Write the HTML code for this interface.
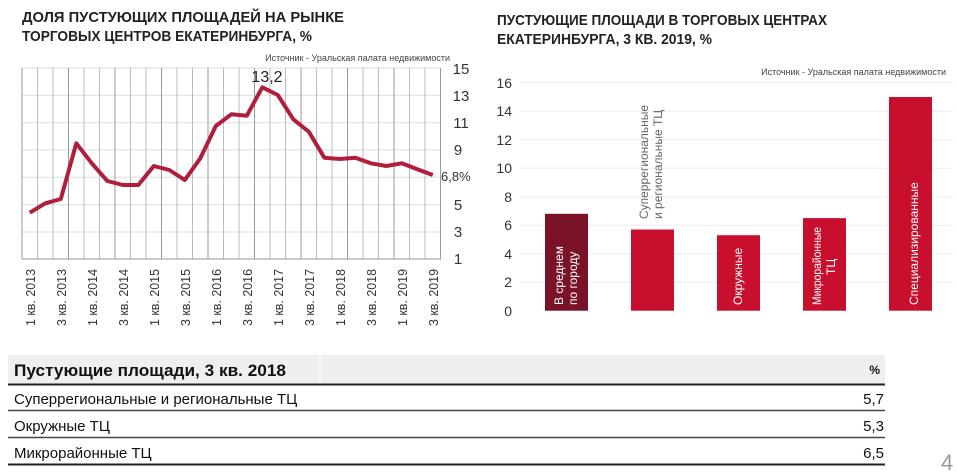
<!DOCTYPE html>
<html><head><meta charset="utf-8"><style>
body{margin:0;width:957px;height:472px;background:#fff;overflow:hidden;font-family:"Liberation Sans",sans-serif;}
svg{position:absolute;left:0;top:0}
</style></head><body>
<svg width="957" height="472" xmlns="http://www.w3.org/2000/svg" font-family="Liberation Sans, sans-serif">
<text x="22" y="22" font-size="15" font-weight="bold" fill="#222" textLength="322" lengthAdjust="spacingAndGlyphs">ДОЛЯ ПУСТУЮЩИХ ПЛОЩАДЕЙ НА РЫНКЕ</text>
<text x="22" y="41" font-size="15" font-weight="bold" fill="#222" textLength="290" lengthAdjust="spacingAndGlyphs">ТОРГОВЫХ ЦЕНТРОВ ЕКАТЕРИНБУРГА, %</text>
<text x="497" y="25" font-size="15" font-weight="bold" fill="#222" textLength="330" lengthAdjust="spacingAndGlyphs">ПУСТУЮЩИЕ ПЛОЩАДИ В ТОРГОВЫХ ЦЕНТРАХ</text>
<text x="497" y="44" font-size="15" font-weight="bold" fill="#222" textLength="215" lengthAdjust="spacingAndGlyphs">ЕКАТЕРИНБУРГА, 3 КВ. 2019, %</text>
<text x="450" y="61" font-size="9" fill="#444" text-anchor="end">Источник - Уральская палата недвижимости</text>
<text x="946" y="75" font-size="9" fill="#444" text-anchor="end">Источник - Уральская палата недвижимости</text>
<g stroke="#ddd" stroke-width="1">
<line x1="22" x2="441" y1="68" y2="68"/><line x1="22" x2="441" y1="95.3" y2="95.3"/><line x1="22" x2="441" y1="122.7" y2="122.7"/><line x1="22" x2="441" y1="150" y2="150"/><line x1="22" x2="441" y1="177.3" y2="177.3"/><line x1="22" x2="441" y1="204.7" y2="204.7"/><line x1="22" x2="441" y1="232" y2="232"/>
</g>
<g id="vg" stroke="#bbb" stroke-width="1"></g>
<line x1="22" x2="441" y1="259" y2="259" stroke="#999"/>
<g font-size="15" fill="#333" text-anchor="middle">
<text x="461" y="74">15</text><text x="461" y="101">13</text><text x="461" y="128">11</text><text x="458" y="155">9</text><text x="458" y="210">5</text><text x="458" y="237">3</text><text x="458" y="264">1</text>
</g>
<text x="441" y="181" font-size="13" fill="#333">6,8%</text>
<text x="267" y="82" font-size="16" fill="#222" text-anchor="middle">13,2</text>
<g id="xl" font-size="13" fill="#333"></g>
<polyline id="pl" fill="none" stroke="#b01e3c" stroke-width="4" stroke-linejoin="round"/>
<g stroke="#eee"><line x1="520" x2="953" y1="82.7" y2="82.7"/><line x1="520" x2="953" y1="111.2" y2="111.2"/><line x1="520" x2="953" y1="139.7" y2="139.7"/><line x1="520" x2="953" y1="168.2" y2="168.2"/><line x1="520" x2="953" y1="196.7" y2="196.7"/><line x1="520" x2="953" y1="225.2" y2="225.2"/><line x1="520" x2="953" y1="253.7" y2="253.7"/><line x1="520" x2="953" y1="282.2" y2="282.2"/></g>
<g font-size="14" fill="#333" text-anchor="end">
<text x="512" y="88">16</text><text x="512" y="116">14</text><text x="512" y="145">12</text><text x="512" y="173">10</text><text x="512" y="202">8</text><text x="512" y="230">6</text><text x="512" y="259">4</text><text x="512" y="287">2</text><text x="512" y="316">0</text>
</g>
<rect x="545" y="213.8" width="43" height="96.9" fill="#7a1228"/>
<rect x="631" y="229.5" width="43" height="81.2" fill="#c8102e"/>
<rect x="717" y="235.2" width="43" height="75.5" fill="#c8102e"/>
<rect x="803" y="218.1" width="43" height="92.6" fill="#c8102e"/>
<rect x="889" y="97" width="43" height="213.7" fill="#c8102e"/>
<g font-size="12" fill="#fff">
<text transform="translate(567,305) rotate(-90)"><tspan x="0" y="-4">В среднем</tspan><tspan x="0" y="10">по городу</tspan></text>
<text transform="translate(738,305) rotate(-90)" y="4">Окружные</text>
<text transform="translate(825,305) rotate(-90)"><tspan x="0" y="-4" textLength="78" lengthAdjust="spacingAndGlyphs">Микрорайонные</tspan><tspan x="30" y="10">ТЦ</tspan></text>
<text transform="translate(914,305) rotate(-90)" y="4">Специализированные</text>
</g>
<text transform="translate(652,219) rotate(-90)" font-size="12" fill="#666"><tspan x="0" y="-4">Суперрегиональные</tspan><tspan x="0" y="10">и региональные ТЦ</tspan></text>
<rect x="8" y="355" width="877" height="29" fill="#efefef"/>
<line x1="320" x2="320" y1="355" y2="384" stroke="#fff"/>
<text x="14" y="376" font-size="17" font-weight="bold" fill="#111" textLength="272" lengthAdjust="spacingAndGlyphs">Пустующие площади, 3 кв. 2018</text>
<text x="880" y="374" font-size="12" font-weight="bold" fill="#111" text-anchor="end">%</text>
<line x1="8" x2="885" y1="384.5" y2="384.5" stroke="#222" stroke-width="2"/>
<line x1="8" x2="885" y1="410.5" y2="410.5" stroke="#444" stroke-width="1.5"/>
<line x1="8" x2="885" y1="437.5" y2="437.5" stroke="#444" stroke-width="1.5"/>
<line x1="8" x2="885" y1="464.5" y2="464.5" stroke="#222" stroke-width="2"/>
<g font-size="15" fill="#111">
<text x="14" y="404">Суперрегиональные и региональные ТЦ</text>
<text x="14" y="431">Окружные ТЦ</text>
<text x="14" y="458">Микрорайонные ТЦ</text>
</g>
<g font-size="15" fill="#111" text-anchor="end">
<text x="884" y="404">5,7</text><text x="884" y="431">5,3</text><text x="884" y="458">6,5</text>
</g>
<text x="941" y="470" font-size="22" fill="#999">4</text>
</svg>
<script>
var ys=[488,460,447,280,340,393,405,405,348,360,390,325,228,193,197,112,135,208,245,323,327,323,340,348,340,358,375];
var pts=ys.map(function(y,i){return (22+15.5*(i+0.5)).toFixed(1)+","+(50+y/3).toFixed(1)}).join(" ");
document.getElementById("pl").setAttribute("points",pts);
var vg=document.getElementById("vg"),ns="http://www.w3.org/2000/svg";
for(var i=0;i<=27;i++){var l=document.createElementNS(ns,"line");var x=22+15.5*i;l.setAttribute("x1",x);l.setAttribute("x2",x);l.setAttribute("y1",68);l.setAttribute("y2",259);if(i%3==0)l.setAttribute("stroke","#999");vg.appendChild(l);}
var xl=document.getElementById("xl");
var labs=["1 кв. 2013","3 кв. 2013","1 кв. 2014","3 кв. 2014","1 кв. 2015","3 кв. 2015","1 кв. 2016","3 кв. 2016","1 кв. 2017","3 кв. 2017","1 кв. 2018","3 кв. 2018","1 кв. 2019","3 кв. 2019"];
labs.forEach(function(s,k){var i=k*2;var x=22+15.5*(i+0.5)+5;var t=document.createElementNS(ns,"text");t.setAttribute("transform","translate("+x+",326) rotate(-90)");t.setAttribute("textLength","57");t.setAttribute("lengthAdjust","spacingAndGlyphs");t.textContent=s;xl.appendChild(t);});
</script>
</body></html>
